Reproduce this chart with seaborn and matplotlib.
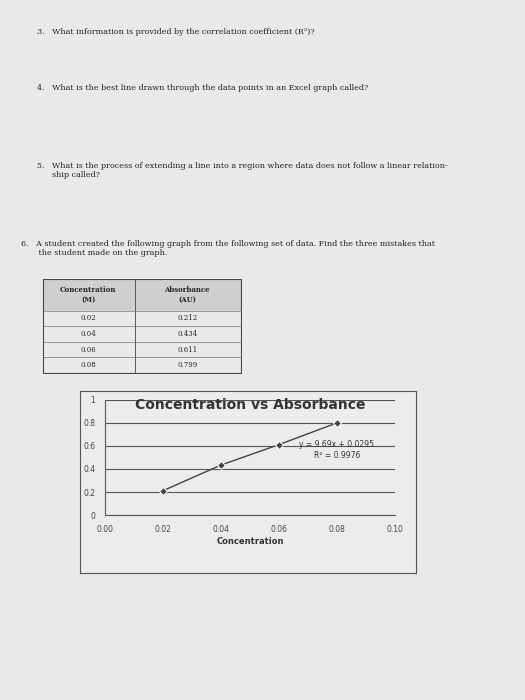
import matplotlib.pyplot as plt
import seaborn as sns
import pandas as pd
from matplotlib.patches import Rectangle

concentration = [0.02, 0.04, 0.06, 0.08]
absorbance = [0.212, 0.434, 0.611, 0.799]
conc_labels = ["0.02", "0.04", "0.06", "0.08"]
abs_labels = ["0.212", "0.434", "0.611", "0.799"]
questions = [
    (0.07, 0.955, "3.   What information is provided by the correlation coefficient (R\u00b2)?"),
    (0.07, 0.875, "4.   What is the best line drawn through the data points in an Excel graph called?"),
    (0.07, 0.757, "5.   What is the process of extending a line into a region where data does not follow a linear relation-\n      ship called?"),
    (0.04, 0.645, "6.   A student created the following graph from the following set of data. Find the three mistakes that\n       the student made on the graph."),
]

df = pd.DataFrame({"Concentration": concentration, "Absorbance": absorbance})

sns.set_style("white")
fig = plt.figure(figsize=(5.25, 7), dpi=100)
fig.patch.set_facecolor("#e9e9ea")

for x, y, t in questions:
    fig.text(x, y, t, fontsize=5.8, family="serif", color="#222", va="center")

# data table
tab = fig.add_axes([0.08, 0.466, 0.38, 0.136])
tab.set_xlim(-0.01, 2.01)
tab.set_ylim(-0.05, 6.05)
tab.axis("off")
tab.add_patch(Rectangle((0, 4), 2, 2, color="#cfcfcf", lw=0))
tab.add_patch(Rectangle((0, 0), 2, 6, fill=False, lw=0.8, ec="#444"))
tab.plot([0.93, 0.93], [0, 6], color="#444", lw=0.6)
for r in range(1, 5):
    tab.plot([0, 2], [r, r], color="#777", lw=0.5)
tab.text(0.46, 5.0, "Concentration\n(M)", ha="center", va="center", fontsize=5, weight="bold", family="serif")
tab.text(1.46, 5.0, "Absorbance\n(AU)", ha="center", va="center", fontsize=5, weight="bold", family="serif")
for i in range(4):
    tab.text(0.46, 3.5 - i, conc_labels[i], ha="center", va="center", fontsize=5, family="serif")
    tab.text(1.46, 3.5 - i, abs_labels[i], ha="center", va="center", fontsize=5, family="serif")

# chart frame
frame = fig.add_axes([0.152, 0.182, 0.64, 0.26])
frame.set_xticks([])
frame.set_yticks([])
frame.set_facecolor("#ececec")
for s in frame.spines.values():
    s.set_color("#555")
    s.set_linewidth(0.8)

ax = fig.add_axes([0.2, 0.264, 0.552, 0.165])
ax.set_facecolor("#ececec")
sns.lineplot(data=df, x="Concentration", y="Absorbance", marker="D", markersize=4,
             color="#444", lw=1, ax=ax)
ax.set_xlim(0, 0.1)
ax.set_ylim(0, 1)
ax.set_xticks([0, 0.02, 0.04, 0.06, 0.08, 0.1])
ax.set_xticklabels(["0.00", "0.02", "0.04", "0.06", "0.08", "0.10"], fontsize=5.5)
ax.set_yticks([0, 0.2, 0.4, 0.6, 0.8, 1])
ax.set_yticklabels(["0", "0.2", "0.4", "0.6", "0.8", "1"], fontsize=5.5)
ax.tick_params(length=2, pad=5, colors="#444")
ax.grid(axis="y", color="#555", lw=0.8)
ax.set_ylabel("")
ax.set_xlabel("Concentration", fontsize=6, weight="bold", color="#333", labelpad=2)
for k in ["top", "right"]:
    ax.spines[k].set_visible(False)
ax.spines["left"].set_color("#555")
ax.spines["bottom"].set_color("#555")
ax.text(0.5, 0.95, "Concentration vs Absorbance", transform=ax.transAxes,
        ha="center", va="center", fontsize=10, weight="bold", color="#333")
ax.text(0.8, 0.565, "y = 9.69x + 0.0295\nR\u00b2 = 0.9976", transform=ax.transAxes,
        ha="center", va="center", fontsize=5.5, color="#333")

fig.savefig("out.png", dpi=100, facecolor=fig.get_facecolor())
